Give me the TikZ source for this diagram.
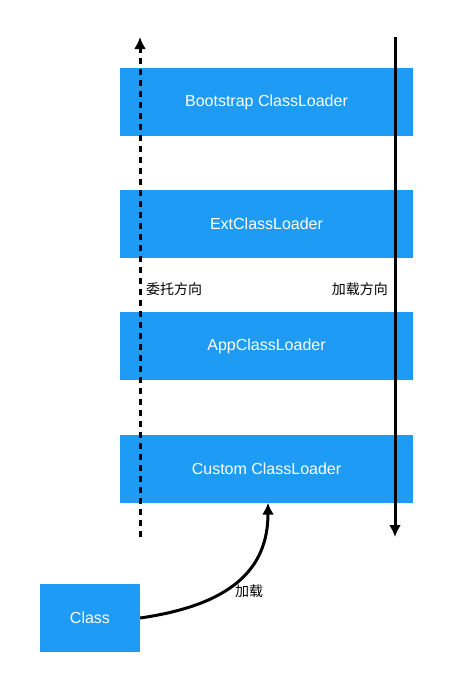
\documentclass[tikz,border=0pt]{standalone}
\usepackage{fontspec}
\setmainfont{Liberation Sans}
\newfontfamily\cjk{Noto Sans CJK SC}
\usepackage{xcolor}
\usetikzlibrary{arrows.meta, shapes}

\definecolor{loaderblue}{RGB}{30,155,245}
\tikzset{
    loaderbox/.style={fill=loaderblue, text=white, minimum width=293pt, minimum height=68pt, inner sep=0pt, font=\fontsize{16}{18}\selectfont},
    dirlabel/.style={font=\cjk\fontsize{14}{16}\selectfont, inner sep=0pt},
}

\begin{document}
\begin{tikzpicture}[x=1pt, y=-1pt]

    \useasboundingbox (0,0) rectangle (474,688);

    \node[loaderbox] (boot) at (266.5,102) {Bootstrap ClassLoader};
    \node[loaderbox] (ext) at (266.5,224) {ExtClassLoader};
    \node[loaderbox] (app) at (266.5,346) {AppClassLoader};
    \node[loaderbox] (cust) at (266.5,468.5) {Custom ClassLoader};
    \node[loaderbox, minimum width=100pt] (cls) at (90,618) {Class};

    \coordinate (upstart) at (140,537);
    \coordinate (upend) at (140,37);
    \coordinate (downstart) at (395,37);
    \coordinate (downend) at (395,537);

    \draw[line width=3pt, dash pattern=on 6pt off 5pt, -{Latex[length=12pt, width=12pt]}] (upstart) -- (upend);
    \draw[line width=3pt, -{Latex[length=12pt, width=12pt]}] (downstart) -- (downend);

    \node[dirlabel, anchor=west] (delegate) at (146,289) {委托方向};
    \node[dirlabel, anchor=east] (loaddir) at (388,289) {加载方向};

    \draw[line width=3pt, -{Latex[length=12pt, width=12pt]}] (cls.east) .. controls (230,605) and (268,570) .. (cust.south -| 268,0);
    \node[dirlabel, anchor=west] (load) at (235,591) {加载};
\end{tikzpicture}
\end{document}
